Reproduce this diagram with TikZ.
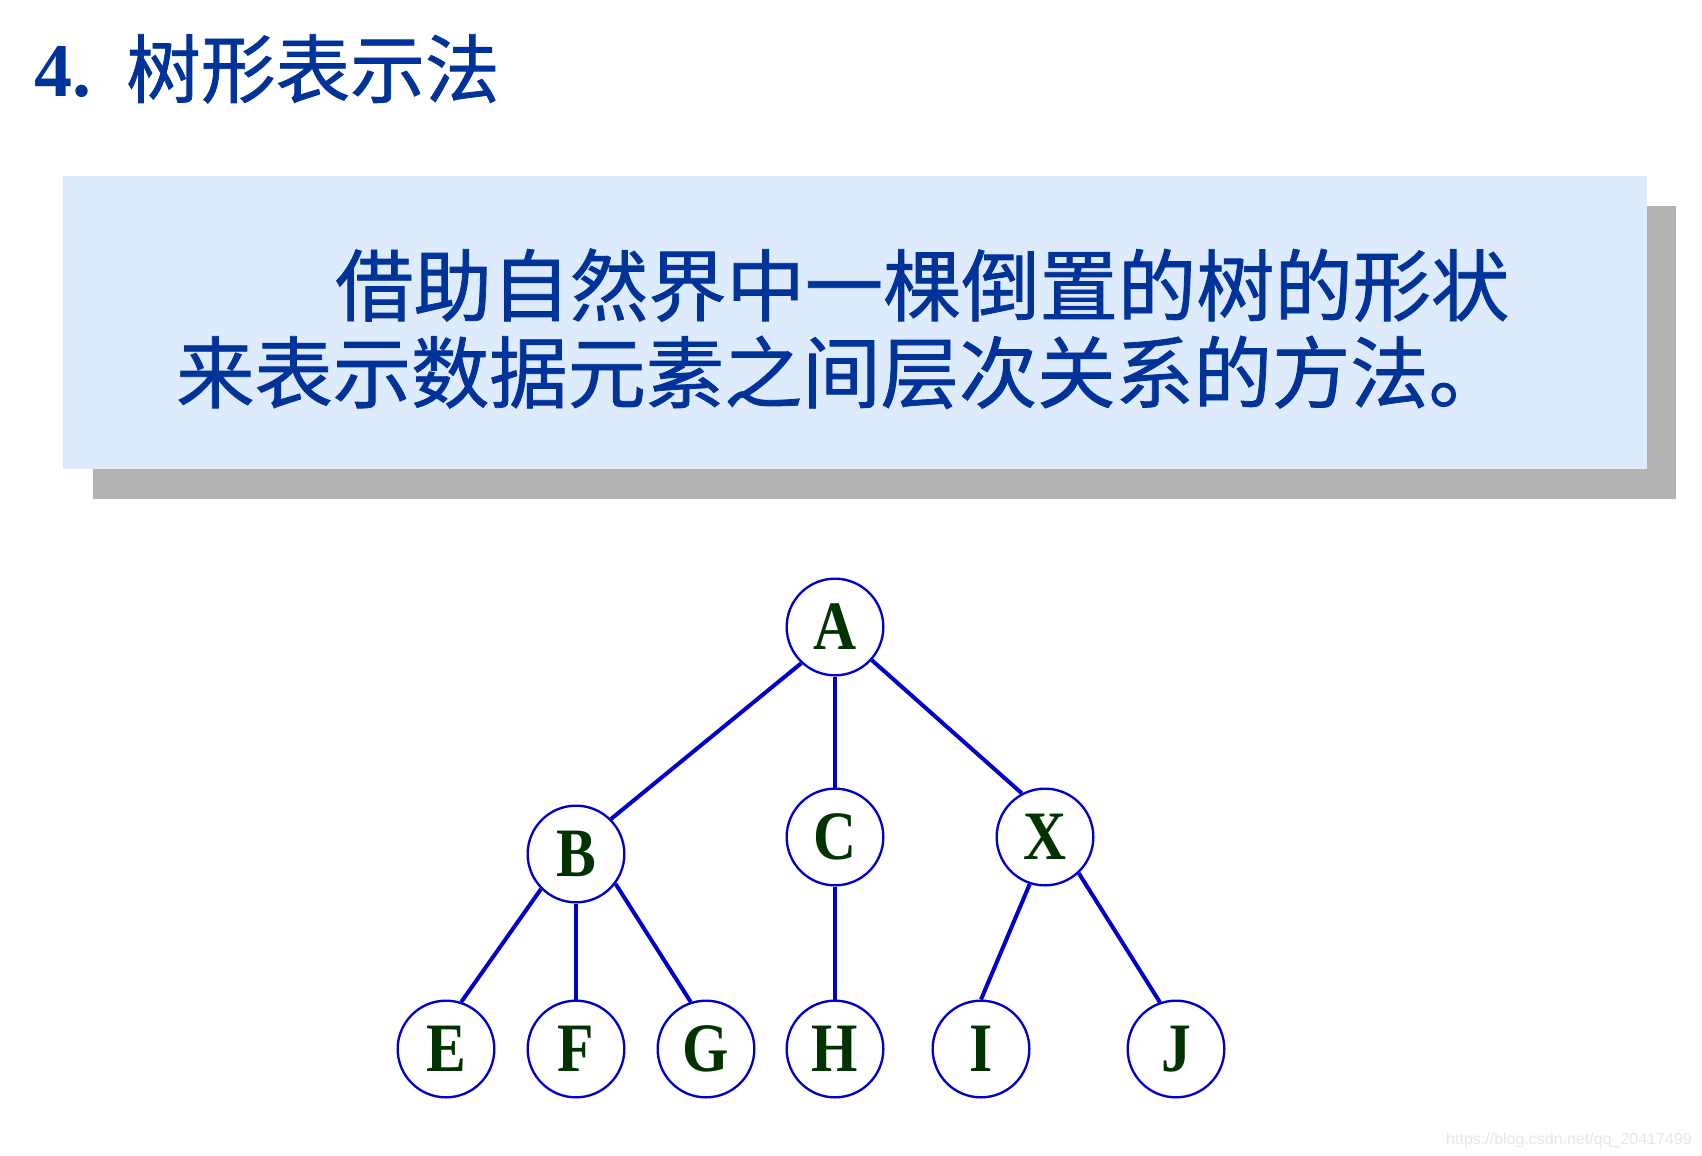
\documentclass[tikz,border=0pt]{standalone}
\usepackage{fontspec}
\usepackage{xcolor}
\usepackage{tikz}
\setmainfont{Liberation Serif}
\newfontfamily\cjkfont[FakeBold=1]{Noto Sans CJK SC}
\newfontface\letterfont[FakeStretch=0.86]{Liberation Serif Bold}
\newfontface\numfont{Liberation Serif Bold}
\newfontfamily\markfont{Liberation Sans}
\definecolor{titleblue}{RGB}{0,51,153}
\definecolor{panelblue}{RGB}{221,235,253}
\definecolor{shadowgray}{RGB}{178,178,178}
\definecolor{treeblue}{RGB}{0,0,204}
\definecolor{lettergreen}{RGB}{0,51,0}
\definecolor{markgray}{RGB}{230,230,230}

\begin{document}
\begin{tikzpicture}[
  x=0.75pt, y=-0.75pt,
  vertex/.style={circle, draw=treeblue, line width=1.75pt, minimum size=72.5pt, inner sep=0pt, text=lettergreen, font=\letterfont\fontsize{52}{52}\selectfont},
  line/.style={draw=treeblue, line width=3pt},
  heading/.style={anchor=base west, inner sep=0pt, text=titleblue},
  body/.style={anchor=base west, inner sep=0pt, text=titleblue, font=\cjkfont\fontsize{58.7}{65}\selectfont}
]
\useasboundingbox (0,0) rectangle (1702,1156);

% Title
\node[heading, font=\numfont\fontsize{57}{57}\selectfont] (num) at (34,96) {4.};
\node[heading, font=\cjkfont\fontsize{56}{56}\selectfont] (title) at (126,97) {树形表示法};

% Definition panel with shadow
\fill[shadowgray] (93,206) rectangle (1676,499);
\fill[panelblue] (63,176) rectangle (1647,469);
\node[body] (line1) at (335,315) {借助自然界中一棵倒置的树的形状};
\node[body] (line2) at (176,402) {来表示数据元素之间层次关系的方法。};

% Tree (root, middle row, leaves)
\node[vertex] (A) at (835,627) {A};
\node[vertex] (B) at (576,854) {B};
\node[vertex] (C) at (835,837) {C};
\node[vertex] (X) at (1045,837) {X};
\node[vertex] (E) at (446,1049) {E};
\node[vertex] (F) at (576,1049) {F};
\node[vertex] (G) at (706,1049) {G};
\node[vertex] (H) at (835,1049) {H};
\node[vertex] (I) at (981,1049) {I};
\node[vertex] (J) at (1176,1049) {J};

% Edges
\draw[line] (A.227) -- (B.45);
\draw[line] (A.south) -- (C.north);
\draw[line] (A.318) -- (X.118);
\draw[line] (B.225) -- (E.72);
\draw[line] (B.south) -- (F.north);
\draw[line] (B.323) -- (G.108);
\draw[line] (C.south) -- (H.north);
\draw[line] (X.252) -- (I.north);
\draw[line] (X.313) -- (J.109);

% Watermark
\node[anchor=base east, inner sep=0pt, text=markgray, font=\markfont\fontsize{12}{12}\selectfont] (mark) at (1692,1144) {https://blog.csdn.net/qq\_20417499};
\end{tikzpicture}
\end{document}
